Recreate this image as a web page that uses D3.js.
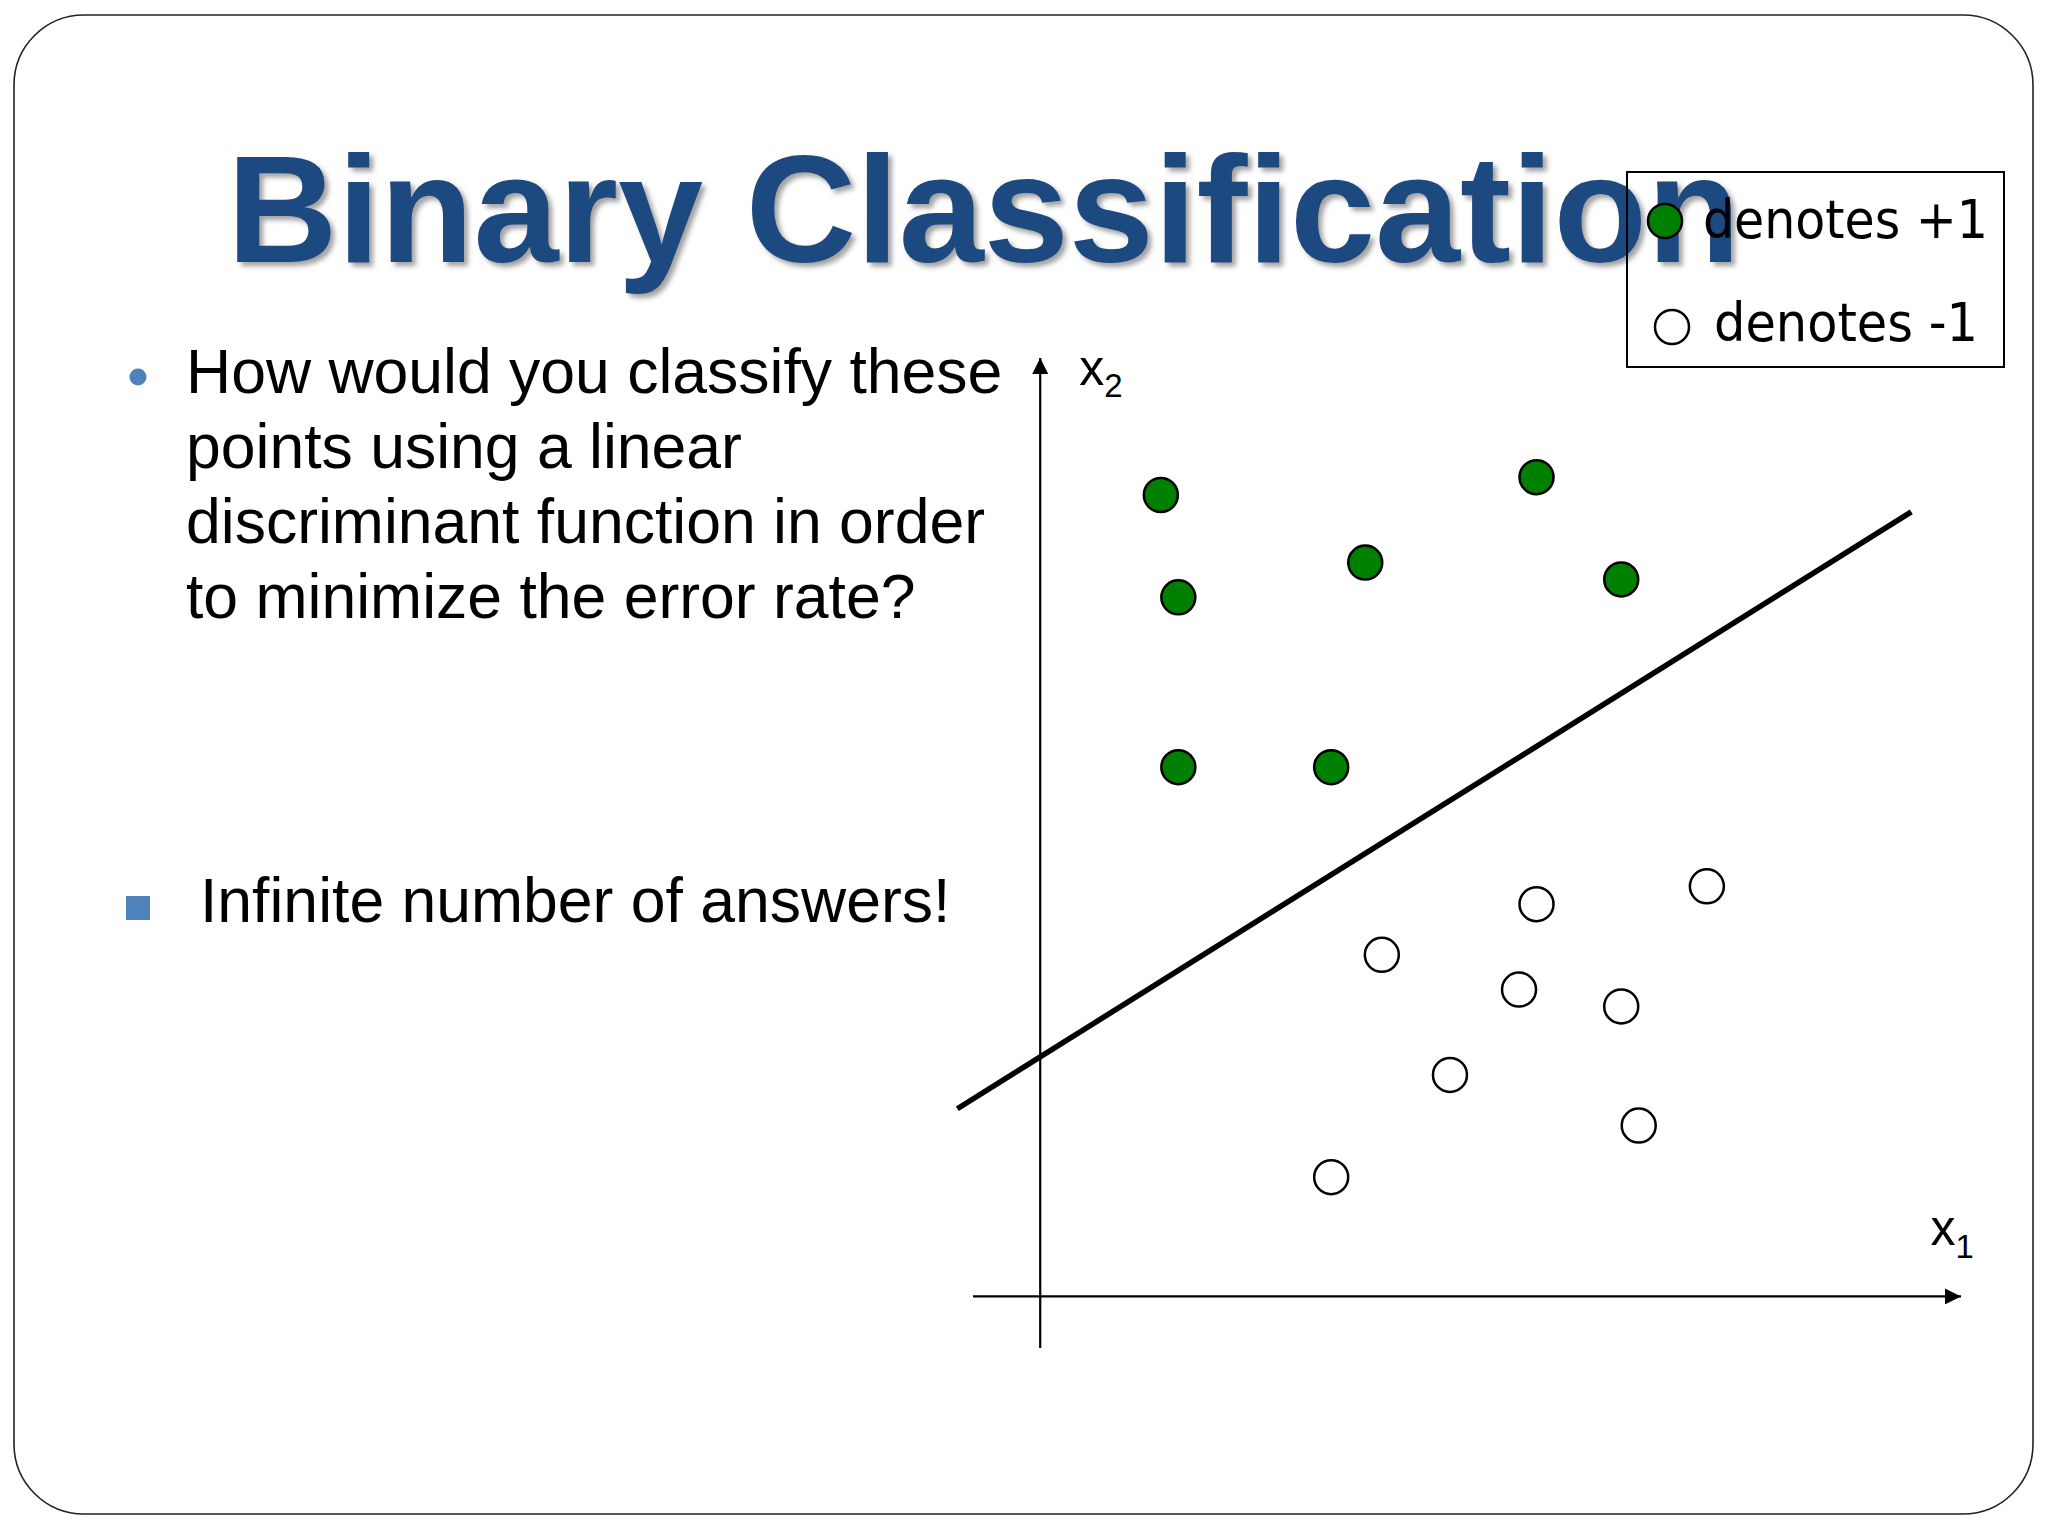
<!DOCTYPE html>
<html>
<head>
<meta charset="utf-8">
<script src="https://cdn.jsdelivr.net/npm/d3@7"></script>
<style>
  html, body { margin: 0; padding: 0; background: #fff; }
  svg { display: block; }
</style>
</head>
<body>
<script>
// data (chart units, origin where the axes cross)
const titleText = "Binary Classification";
const questionLines = [
    "How would you classify these",
    "points using a linear",
    "discriminant function in order",
    "to minimize the error rate?"
];
const answerLine = "Infinite number of answers!";

const posX = [1.31, 5.39, 3.53, 6.31, 1.50, 1.50, 3.16];
const posY = [8.54, 8.73, 7.82, 7.64, 7.45, 5.64, 5.64];
const negX = [5.39, 7.24, 3.71, 5.20, 6.31, 4.45, 6.50, 3.16];
const negY = [4.18, 4.37, 3.64, 3.27, 3.09, 2.36, 1.82, 1.27];

// separating line end points
const boundaryX = [-0.90, 9.46];
const boundaryY = [2.00, 8.36];

const legendLabels = ["denotes +1", "denotes -1"];
const legendFills = ["#008000", "#ffffff"];

const width = 2048, height = 1536;

const svg = d3.select("body").append("svg")
    .attr("width", width)
    .attr("height", height);

const defs = svg.append("defs");
defs.append("filter")
    .attr("id", "shadow")
    .attr("x", "-5%").attr("y", "-10%")
    .attr("width", "115%").attr("height", "130%")
  .append("feDropShadow")
    .attr("dx", 4).attr("dy", 4)
    .attr("stdDeviation", 2.5)
    .attr("flood-color", "#555")
    .attr("flood-opacity", 0.55);

defs.append("marker")
    .attr("id", "arrow")
    .attr("viewBox", "0 0 16 16")
    .attr("refX", 16).attr("refY", 8)
    .attr("markerWidth", 16).attr("markerHeight", 16)
    .attr("markerUnits", "userSpaceOnUse")
    .attr("orient", "auto")
  .append("path")
    .attr("d", "M0,0L16,8L0,16Z")
    .attr("fill", "#000");

// slide frame
svg.append("rect")
    .attr("x", 14).attr("y", 15)
    .attr("width", 2019).attr("height", 1499)
    .attr("rx", 70).attr("ry", 70)
    .attr("fill", "#fff")
    .attr("stroke", "#222")
    .attr("stroke-width", 1.6);

// title
svg.append("text")
    .attr("x", 227).attr("y", 262)
    .attr("font-family", "'Liberation Sans', Arial, sans-serif")
    .attr("font-weight", "bold")
    .attr("font-size", 153)
    .attr("fill", "#1f4a80")
    .attr("filter", "url(#shadow)")
    .text(titleText);

// left text
const textFont = "'Liberation Sans', Arial, sans-serif";
svg.append("circle")
    .attr("cx", 138).attr("cy", 377).attr("r", 8.5)
    .attr("fill", "#4f81bd");

svg.append("g")
    .selectAll("text")
    .data(questionLines)
    .join("text")
        .attr("x", 186)
        .attr("y", (d, i) => 393 + i * 75)
        .attr("font-family", textFont)
        .attr("font-size", 62.5)
        .attr("fill", "#000")
        .text(d => d);

svg.append("rect")
    .attr("x", 126).attr("y", 896)
    .attr("width", 24).attr("height", 24)
    .attr("fill", "#4f81bd");

svg.append("text")
    .attr("x", 200).attr("y", 922)
    .attr("font-family", textFont)
    .attr("font-size", 62.5)
    .attr("fill", "#000")
    .text(answerLine);

// scales
const x = d3.scaleLinear().domain([-0.73, 10]).range([973, 1961]);
const y = d3.scaleLinear().domain([-0.55, 10]).range([1348, 358]);

const plot = svg.append("g");

// axes
plot.append("line")
    .attr("x1", x(-0.73)).attr("x2", x(10))
    .attr("y1", y(0)).attr("y2", y(0))
    .attr("stroke", "#000").attr("stroke-width", 2.2)
    .attr("marker-end", "url(#arrow)");

plot.append("line")
    .attr("x1", x(0)).attr("x2", x(0))
    .attr("y1", y(-0.55)).attr("y2", y(10))
    .attr("stroke", "#000").attr("stroke-width", 2.2)
    .attr("marker-end", "url(#arrow)");

// axis labels
const x2Label = plot.append("text")
    .attr("x", x(0) + 39).attr("y", y(10) + 27)
    .attr("font-family", textFont)
    .attr("font-size", 50);
x2Label.append("tspan").text("x");
x2Label.append("tspan").attr("font-size", 33).attr("dy", 12).text("2");

const x1Label = plot.append("text")
    .attr("x", x(9.67)).attr("y", y(0) - 51)
    .attr("font-family", textFont)
    .attr("font-size", 50);
x1Label.append("tspan").text("x");
x1Label.append("tspan").attr("font-size", 33).attr("dy", 13).text("1");

// decision boundary
plot.append("path")
    .datum(d3.zip(boundaryX, boundaryY))
    .attr("d", d3.line().x(d => x(d[0])).y(d => y(d[1])))
    .attr("fill", "none")
    .attr("stroke", "#000")
    .attr("stroke-width", 5.5);

// points
plot.append("g")
    .selectAll("circle")
    .data(d3.zip(posX, posY))
    .join("circle")
        .attr("cx", d => x(d[0]))
        .attr("cy", d => y(d[1]))
        .attr("r", 17)
        .attr("fill", "#008000")
        .attr("stroke", "#000")
        .attr("stroke-width", 2.5);

plot.append("g")
    .selectAll("circle")
    .data(d3.zip(negX, negY))
    .join("circle")
        .attr("cx", d => x(d[0]))
        .attr("cy", d => y(d[1]))
        .attr("r", 17)
        .attr("fill", "#fff")
        .attr("stroke", "#000")
        .attr("stroke-width", 2.5);

// legend
const legend = svg.append("g");
legend.append("rect")
    .attr("x", 1627).attr("y", 172)
    .attr("width", 377).attr("height", 195)
    .attr("fill", "none")
    .attr("stroke", "#000")
    .attr("stroke-width", 2);

const legendItems = legend.selectAll("g.item")
    .data(legendLabels)
    .join("g")
        .attr("class", "item");

legendItems.append("circle")
    .attr("cx", (d, i) => i ? 1672 : 1665)
    .attr("cy", (d, i) => i ? 327 : 221)
    .attr("r", 17)
    .attr("fill", (d, i) => legendFills[i])
    .attr("stroke", "#000")
    .attr("stroke-width", 2.5);

legendItems.append("text")
    .attr("x", (d, i) => i ? 1714 : 1703)
    .attr("y", (d, i) => i ? 341 : 238)
    .attr("font-family", "'DejaVu Sans Condensed', 'DejaVu Sans', sans-serif")
    .attr("font-stretch", "condensed")
    .attr("font-size", 54)
    .attr("textLength", (d, i) => i ? 264 : 285)
    .attr("lengthAdjust", "spacingAndGlyphs")
    .attr("fill", "#000")
    .text(d => d);
</script>
</body>
</html>
